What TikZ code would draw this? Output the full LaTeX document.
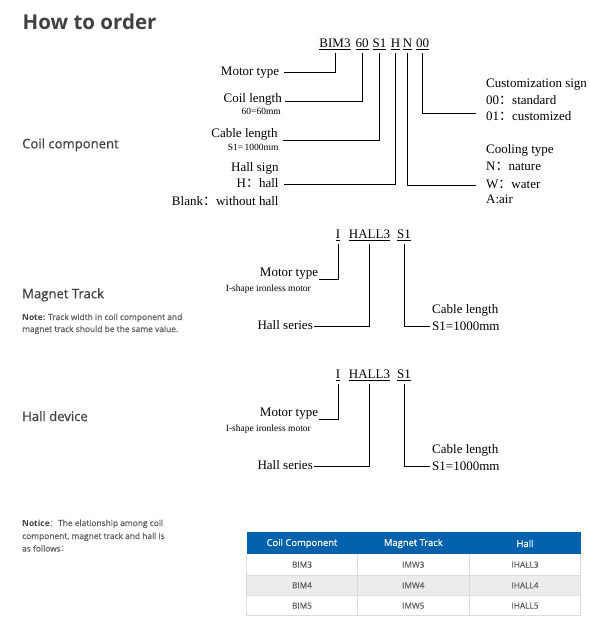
\documentclass[tikz,border=0pt]{standalone}
\usepackage{fontspec}
\setmainfont{Liberation Serif}
\newfontfamily\osans{Open Sans}
\newfontfamily\osansm[FakeBold=0.6]{Open Sans}
\newfontfamily\cjk{Noto Sans CJK SC}
\newcommand\fc{{\cjk ：}}
\definecolor{hdr}{RGB}{0,98,172}
\definecolor{ttl}{RGB}{64,64,64}
\definecolor{notec}{RGB}{95,95,95}
\definecolor{gridc}{RGB}{220,220,222}
\definecolor{rowg}{RGB}{236,236,238}
\tikzset{
  ser/.style={font=\fontsize{13}{15}\selectfont, inner sep=0pt},
  sml/.style={font=\fontsize{9.5}{11}\selectfont, inner sep=0pt},
  codeseg/.style={ser, anchor=base},
  lab/.style={ser, anchor=base east},
  slab/.style={sml, anchor=base east},
  rlab/.style={ser, anchor=base west},
  conn/.style={draw, line width=0.8pt},
  sect/.style={font=\osansm\fontsize{13.1}{15}\selectfont, text=ttl, inner sep=0pt, anchor=base west},
  notetxt/.style={font=\osansm\fontsize{8.4}{10}\selectfont, text=notec, inner sep=0pt, anchor=base west},
  thead/.style={font=\osansm\fontsize{9.4}{11}\selectfont, text=white, inner sep=0pt},
  tbody/.style={font=\osansm\fontsize{8.3}{10}\selectfont, text=notec, inner sep=0pt},
}
\begin{document}
\begin{tikzpicture}[x=1pt,y=-1pt]
\useasboundingbox (0,0) rectangle (589,631);
% title
\node[font=\osans\bfseries\fontsize{20.5}{24}\selectfont, text=ttl, inner sep=0pt, anchor=base west] (title) at (22.5,30) {How to order};
% section labels
\node[sect] (tcoil) at (22,148.3) {Coil component};
\node[sect] (tmag) at (22,298.3) {Magnet Track};
\node[notetxt] (nmag1) at (22,320) {{\osans\bfseries\color{ttl}Note:} Track width in coil component and};
\node[notetxt] (nmag2) at (22,332) {magnet track should be the same value.};
\node[sect] (thall) at (22,421) {Hall device};
\node[notetxt] (ntc1) at (22,526) {{\osans\bfseries\color{ttl}Notice}\fc The elationship among coil};
\node[notetxt] (ntc2) at (22,539) {component, magnet track and hall is};
\node[notetxt] (ntc3) at (22,551.5) {as follows\fc};

% ---- coil component code
\node[codeseg] (bim) at (335,48) {\underline{BIM3}};
\node[codeseg] (c60) at (362,48) {\underline{60}};
\node[codeseg] (cs1) at (379.5,48) {\underline{S1}};
\node[codeseg] (ch) at (395.5,48) {\underline{H}};
\node[codeseg] (cn) at (407.5,48) {\underline{N}};
\node[codeseg] (c00) at (422.5,48) {\underline{00}};

\node[lab] (motor) at (279.3,75.7) {Motor type};
\node[lab] (coil) at (282,102.3) {Coil length};
\node[slab] (coilv) at (281,115) {60=60mm};
\node[lab] (cable) at (277.7,137.3) {Cable length};
\node[slab] (cablev) at (278.7,150.7) {S1=\,1000mm};
\node[lab] (hall) at (278.7,171.7) {Hall sign};
\node[lab] (hallh) at (278.7,187.7) {H\fc hall};
\node[lab] (hallb) at (278.7,205) {Blank\fc without hall};

\node[rlab] (cust) at (486,87.3) {Customization sign};
\node[rlab] (cust0) at (486,104.3) {00\fc standard};
\node[rlab] (cust1) at (486,121) {01\fc customized};
\node[rlab] (cool) at (486,154) {Cooling type};
\node[rlab] (cooln) at (486,171) {N\fc nature};
\node[rlab] (coolw) at (486,188.3) {W\fc water};
\node[rlab] (coola) at (486,204) {A:air};

\draw[conn] (bim.south) ++(0,3) |- ([shift={(4.7,-3.4)}]motor.base east);
\draw[conn] (c60.south) ++(0,3) |- ([shift={(3,-1.3)}]coil.base east);
\draw[conn] (cs1.south) ++(0,3) |- ([shift={(5.6,2.7)}]cable.base east);
\draw[conn] (ch.south) ++(0,3) |- ([shift={(5.6,-3.4)}]hallh.base east);
\draw[conn] (cn.south) ++(0,3) |- ([shift={(-10,-3.3)}]coolw.base west);
\draw[conn] (c00.south) ++(0,3) |- ([shift={(-10,-7.7)}]cust1.base west);

% ---- magnet track and hall device
\foreach \dy/\p in {0/m,140/h}{
  \node[codeseg] (\p i) at (338,238.3+\dy) {\underline{I}};
  \node[codeseg] (\p hall) at (369.5,238.3+\dy) {\underline{HALL3}};
  \node[codeseg] (\p s1) at (404,238.3+\dy) {\underline{S1}};
  \node[lab] (\p motor) at (318.3,276+\dy) {Motor type};
  \node[slab] (\p shape) at (311,291+\dy) {I-shape ironless motor};
  \node[lab] (\p series) at (313,329.3+\dy) {Hall series};
  \node[rlab] (\p cable) at (432,313.3+\dy) {Cable length};
  \node[rlab] (\p cablev) at (432,330+\dy) {S1=1000mm};
  \draw[conn] (\p i.south) ++(0,3) |- ([shift={(1,3.3)}]\p motor.base east);
  \draw[conn] (\p hall.south) ++(0,3) |- ([shift={(1.3,-3.3)}]\p series.base east);
  \draw[conn] (\p s1.south) ++(0,3) |- ([shift={(-2,-4)}]\p cablev.base west);
}

% ---- table
\fill[hdr] (246.7,532.3) rectangle (580.7,554.3);
\fill[rowg] (246.7,575) rectangle (580.7,595.7);
\draw[gridc, line width=0.8pt] (246.7,554.3) -- (246.7,615.7) -- (580.7,615.7) -- (580.7,554.3);
\draw[gridc, line width=0.8pt] (246.7,575) -- (580.7,575) (246.7,595.7) -- (580.7,595.7);
\draw[gridc, line width=0.8pt] (357.3,554.3) -- (357.3,615.7) (469.3,554.3) -- (469.3,615.7);
\node[thead] (h1) at (302,543.5) {Coil Component};
\node[thead] (h2) at (413.3,543.5) {Magnet Track};
\node[thead] (h3) at (525,543.5) {Hall};
\node[tbody] (r11) at (302,564.7) {BIM3};
\node[tbody] (r12) at (413.3,564.7) {IMW3};
\node[tbody] (r13) at (525,564.7) {IHALL3};
\node[tbody] (r21) at (302,585.3) {BIM4};
\node[tbody] (r22) at (413.3,585.3) {IMW4};
\node[tbody] (r23) at (525,585.3) {IHALL4};
\node[tbody] (r31) at (302,605.7) {BIM5};
\node[tbody] (r32) at (413.3,605.7) {IMW5};
\node[tbody] (r33) at (525,605.7) {IHALL5};
\end{tikzpicture}
\end{document}
